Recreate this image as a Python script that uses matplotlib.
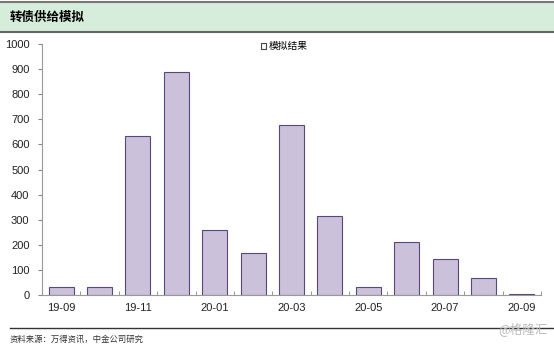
import matplotlib.pyplot as plt
import matplotlib.patches as mpatches
import numpy as np

plt.rcParams['font.family'] = ['Noto Sans CJK SC', 'DejaVu Sans']

# 转债供给模拟数据
months = ['19-09', '19-10', '19-11', '19-12', '20-01', '20-02', '20-03',
          '20-04', '20-05', '20-06', '20-07', '20-08', '20-09']
supply = [33, 33, 635, 890, 258, 168, 678, 315, 30, 213, 143, 68, 5]
yticks = [0, 100, 200, 300, 400, 500, 600, 700, 800, 900, 1000]

W, H = 554, 346
fig = plt.figure(figsize=(W / 100, H / 100), dpi=100)

# 标题栏
fig.patches.append(mpatches.Rectangle((0, 1 - 32 / H), 1, 30 / H, transform=fig.transFigure,
                                      facecolor='#d6eddb', edgecolor='none', zorder=0))
fig.add_artist(plt.Line2D([0, 1], [1 - 2 / H, 1 - 2 / H], color='#777777', lw=1.5))
fig.add_artist(plt.Line2D([0, 1], [1 - 32 / H, 1 - 32 / H], color='#666666', lw=1.5))
fig.text(10 / W, 1 - 17 / H, '转债供给模拟', fontsize=9, fontweight='heavy', va='center')

ax = fig.add_axes([42 / W, 1 - 295 / H, (541 - 42) / W, (295 - 44) / H])
x = np.arange(len(months))
ax.bar(x, supply, width=0.65, color='#ccc1da', edgecolor='#574a78', linewidth=0.8,
       label='模拟结果')

ax.set_xlim(-0.5, len(months) - 0.5)
ax.set_ylim(0, 1000)
ax.set_yticks(yticks)
ax.set_yticklabels([str(v) for v in yticks], family='Liberation Sans', fontsize=8,
                   color='#222222')
ax.tick_params(axis='y', length=3, color='#888888', pad=6)
ax.set_xticks(x[::2])
ax.set_xticklabels(months[::2], family='Liberation Sans', fontsize=8, color='#222222')
ax.tick_params(axis='x', length=0, pad=6)
ax.set_xticks(np.arange(-0.5, len(months), 1), minor=True)
ax.tick_params(axis='x', which='minor', length=3, color='#888888', direction='in')
for s in ['top', 'right']:
    ax.spines[s].set_visible(False)
for s in ['left', 'bottom']:
    ax.spines[s].set_color('#999999')

leg = ax.legend(loc='upper center', bbox_to_anchor=(0.485, 1.045), frameon=False, fontsize=7,
                handlelength=0.6, handleheight=0.6, handletextpad=0.2)
for p in leg.get_patches():
    p.set_facecolor('white')
    p.set_edgecolor('#444444')

# 底部来源
fig.add_artist(plt.Line2D([10 / W, 1], [1 - 328 / H, 1 - 328 / H], color='#333333', lw=1))
fig.text(10 / W, 1 - 339 / H, '资料来源：万得资讯，中金公司研究', fontsize=6, va='center',
         color='#333333')
fig.text(548 / W, 1 - 329 / H, '@格隆汇', fontsize=9, ha='right', va='center',
         color='#bbbbbb')

fig.savefig('out.png', dpi=100)
